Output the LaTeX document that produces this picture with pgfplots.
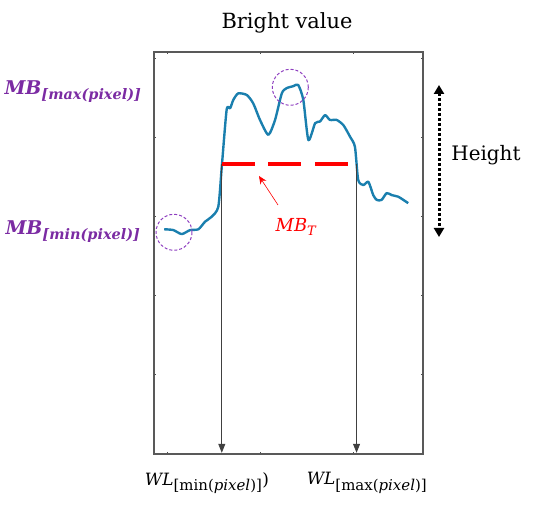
\documentclass[border=0pt]{standalone}
\usepackage{amsmath}
\usepackage{fontspec}
\setmainfont{DejaVu Serif}
\usepackage{pgfplots}
\pgfplotsset{compat=1.18}
\usetikzlibrary{arrows.meta}
\definecolor{curve}{HTML}{1A7FAE}
\definecolor{mbpurple}{HTML}{7B2BA3}
\definecolor{circpurple}{HTML}{8E3FC0}
\newcommand{\sub}[2]{\text{\fontsize{#1}{#1}\selectfont #2}}
\begin{document}
\begin{tikzpicture}[x=1bp,y=1bp]
\path[use as bounding box] (0,0) rectangle (550,510);
\begin{axis}[
  at={(154bp,56bp)}, anchor=south west,
  width=269bp, height=402bp, scale only axis,
  xmin=0, xmax=100, ymin=0, ymax=100,
  xtick={4.8,39.4,74.0}, ytick={19.7,39.4,59.1,78.8,98.5},
  xticklabels={}, yticklabels={},
  major tick length=2bp,
  tick style={color=black!70, line width=0.8pt},
  axis line style={color=black!65, line width=1.3pt},
  clip=false,
]
\addplot[curve, line width=2.4pt, line join=round, smooth, tension=0.4] coordinates {
(3.8,55.9)(7.2,55.7)(10.3,54.7)(13.4,55.7)(16.5,55.9)(19.0,57.8)(21.4,59.0)
(23.9,61.5)(25.2,71.5)(27.0,85.6)(28.3,86.0)(29.5,88.1)(31.3,89.7)(34.5,89.3)
(36.9,87.2)(39.4,83.1)(42.5,79.4)(45.0,83.1)(47.5,89.7)(49.3,91.0)(51.8,91.5)
(53.6,91.8)(55.5,88.1)(57.4,78.1)(59.9,82.3)(61.7,82.7)(63.6,84.3)(65.4,83.1)
(67.9,83.1)(70.4,81.8)(72.9,78.9)(74.7,76.4)(75.9,68.2)(77.8,66.9)(79.7,67.7)
(81.5,64.4)(82.8,63.2)(84.6,63.2)(86.5,64.9)(88.4,64.4)(90.8,64.0)(92.7,63.2)
(94.5,62.4)
};
\addplot[red, line width=4.3pt, dash pattern=on 33bp off 13.5bp] coordinates {(25.2,72.1)(75.3,72.1)};
\draw[black!75, line width=0.8pt, -{Triangle[length=9bp,width=7bp]}] (axis cs:25.2,72.1) -- (axis cs:25.2,0.3);
\draw[black!75, line width=0.8pt, -{Triangle[length=9bp,width=7bp]}] (axis cs:75.3,72.1) -- (axis cs:75.3,0.3);
\end{axis}
% annotations in page coordinates
\node[font=\fontsize{21}{25}\selectfont] at (287,487) {Bright value};
\draw[circpurple, line width=1pt, dash pattern=on 3bp off 2bp] (290.3,422.7) circle (18);
\draw[circpurple, line width=1pt, dash pattern=on 3bp off 2bp] (174,277.7) circle (18);
\node[mbpurple, font=\fontsize{19}{22}\selectfont\bfseries\itshape] at (73,418) {$\text{MB}_{\sub{14.5}{[max(pixel)]}}$};
\node[mbpurple, font=\fontsize{19}{22}\selectfont\bfseries\itshape] at (73,278) {$\text{MB}_{\sub{14.5}{[min(pixel)]}}$};
\node[red, font=\fontsize{18}{21}\selectfont\itshape] at (296,283) {$\text{MB}_{\sub{13}{T}}$};
\draw[red, line width=0.6pt, -{Stealth[length=8bp,width=7bp]}] (278,305) -- (259,334);
\node[font=\fontsize{20}{24}\selectfont] at (486,355) {Height};
\draw[black, line width=3pt, dash pattern=on 2.5bp off 2.5bp, {Triangle[length=9bp,width=10bp]}-{Triangle[length=9bp,width=10bp]}] (439,425) -- (439,273);
\node[font=\fontsize{17}{21}\selectfont] at (207,27) {$\text{\itshape WL}_{\sub{15}{[min(\textit{pixel})]}}\text{)}$};
\node[font=\fontsize{17}{21}\selectfont] at (367,27) {$\text{\itshape WL}_{\sub{15}{[max(\textit{pixel})]}}$};
\end{tikzpicture}
\end{document}
